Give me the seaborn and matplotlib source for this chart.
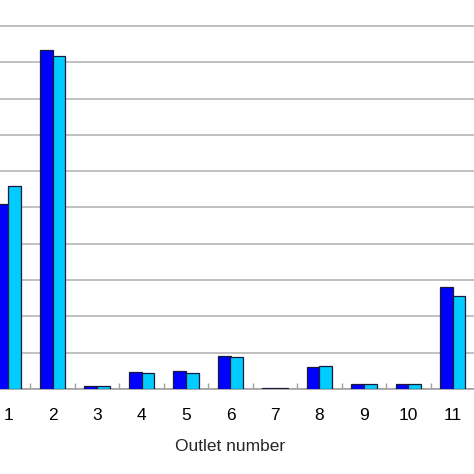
import pandas as pd
import seaborn as sns
import matplotlib.pyplot as plt
from matplotlib.ticker import FixedLocator

# values (no y scale visible, units of gridline steps)
outlets = ["1", "2", "3", "4", "5", "6", "7", "8", "9", "10", "11"]
series_a = [5.11, 9.34, 0.07, 0.47, 0.50, 0.91, 0.03, 0.60, 0.15, 0.15, 2.81]
series_b = [5.60, 9.16, 0.07, 0.43, 0.43, 0.87, 0.03, 0.64, 0.15, 0.15, 2.57]
series_names = ["Series 1", "Series 2"]

df = pd.DataFrame({
    "outlet": outlets * 2,
    "value": series_a + series_b,
    "series": [series_names[0]] * len(outlets) + [series_names[1]] * len(outlets),
})

sns.set_style("white")
plt.rcParams["font.family"] = ["Liberation Sans", "DejaVu Sans"]

fig = plt.figure(figsize=(4.74, 4.74), dpi=100)
# plot area is cropped on the left in the reference
ymax = 10.1
ax = fig.add_axes([-14 / 474, 85 / 474, 489 / 474, 36.3 * ymax / 474])

sns.barplot(data=df, x="outlet", y="value", hue="series", order=outlets,
            hue_order=series_names, palette=["#0000ff", "#00ccff"],
            saturation=1, width=0.57, edgecolor="#1a1a3a", linewidth=0.9,
            legend=False, ax=ax, zorder=3)

ax.set_ylim(0, ymax)
ax.set_xlim(-0.5, len(outlets) - 0.5)
ax.set_yticks(range(0, 11))
ax.set_yticklabels([])
ax.yaxis.grid(True, color="#c0c0c0", linewidth=1.4, zorder=0)
ax.set_axisbelow(True)
ax.tick_params(axis="y", length=0)

for s in ["top", "left", "right"]:
    ax.spines[s].set_visible(False)
ax.spines["bottom"].set_color("#a0a0a0")
ax.spines["bottom"].set_linewidth(1.2)

ax.xaxis.set_minor_locator(FixedLocator([i + 0.5 for i in range(-1, len(outlets))]))
ax.tick_params(axis="x", which="major", length=0, pad=14, labelsize=12.5, labelcolor="black")
ax.tick_params(axis="x", which="minor", direction="in", length=4, width=1, color="#a0a0a0", bottom=True)

ax.set_xlabel("Outlet number", fontsize=12.5, labelpad=11)
ax.set_ylabel("")

fig.savefig("out.png", dpi=100)
